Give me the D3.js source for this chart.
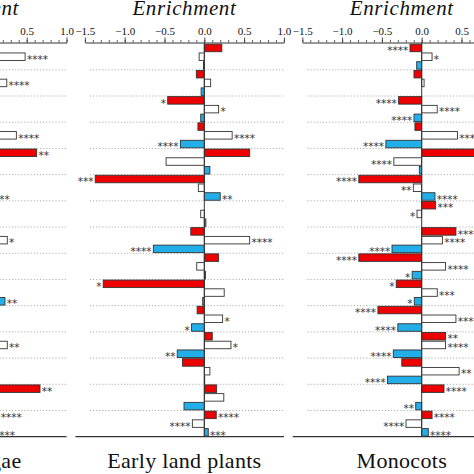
<!DOCTYPE html>
<html>
<head>
<meta charset="utf-8">
<script src="https://cdn.jsdelivr.net/npm/d3@7/dist/d3.min.js"></script>
<style>
  html, body { margin: 0; padding: 0; background: #fff; }
  svg { display: block; }
</style>
</head>
<body>
<svg id="chart" width="474" height="474"></svg>
<script>
// ---------------- DATA ----------------
const panels = ["Green algae", "Early land plants", "Monocots"];
const series = ["red", "white", "blue"];
const categories = ["c1","c2","c3","c4","c5","c6","c7","c8","c9","c10","c11","c12","c13","c14","c15"];
const majorTicks = [-1.5, -1.0, -0.5, 0.0, 0.5, 1.0];
const axisTitle = "Enrichment";

// Green algae (left panel, mostly cropped; null = not visible)
const algaeRed   = [null, null, null, null, 0.625, null, null, null, null, null, null, null, null, 0.667, 0.152];
const algaeWhite = [0.48, 0.25, null, 0.37, null, null, null, 0.256, null, null, null, 0.256, null, null, null];
const algaeBlue  = [null, null, null, null, null, 0.133, null, null, null, 0.227, null, null, null, null, 0.133];
const algaeRedSig   = ["", "", "", "", "**", "", "", "", "", "", "", "", "", "**", "****"];
const algaeWhiteSig = ["****", "****", "", "****", "", "", "", "*", "", "", "", "**", "", "", ""];
const algaeBlueSig  = ["", "", "", "", "", "**", "", "", "", "**", "", "", "", "", "***"];

// Early land plants
const elpRed   = [0.22, -0.10, -0.46, -0.08, 0.57, -1.37, 0.0, -0.17, 0.18, -1.27, -0.09, 0.10, -0.275, 0.155, 0.15];
const elpWhite = [-0.065, 0.08, 0.18, 0.35, -0.48, -0.075, -0.045, 0.57, -0.095, 0.25, 0.23, 0.335, 0.07, 0.245, -0.15];
const elpBlue  = [-0.01, -0.04, -0.045, -0.30, 0.07, 0.20, 0.02, -0.64, 0.015, -0.02, -0.16, -0.34, 0.005, -0.255, 0.05];
const elpRedSig   = ["", "", "*", "", "", "***", "", "", "", "*", "", "", "", "", "****"];
const elpWhiteSig = ["", "", "*", "****", "", "", "", "****", "", "", "*", "*", "", "", "****"];
const elpBlueSig  = ["", "", "", "****", "", "**", "", "****", "", "", "*", "**", "", "", "***"];

// Monocots
const monoRed   = [-0.147, -0.097, -0.29, -0.085, 0.80, -0.79, 0.175, 0.43, -0.79, -0.32, -0.55, 0.30, -0.25, 0.28, 0.13];
const monoWhite = [0.13, 0.03, 0.195, 0.45, -0.35, -0.105, -0.059, 0.26, 0.30, 0.196, 0.43, 0.30, 0.47, 0.0, -0.197];
const monoBlue  = [-0.063, 0.0, -0.097, -0.45, -0.03, 0.167, 0.0, -0.373, -0.12, -0.093, -0.30, -0.357, -0.43, -0.075, 0.083];
const monoRedSig   = ["****", "", "****", "", "****", "****", "***", "****", "****", "*", "****", "**", "", "****", "****"];
const monoWhiteSig = ["*", "", "****", "****", "****", "**", "*", "****", "****", "***", "****", "****", "**", "", "****"];
const monoBlueSig  = ["", "", "****", "****", "", "****", "", "****", "*", "*", "****", "****", "****", "**", "****"];

const panelValues = [
  [algaeRed, algaeWhite, algaeBlue],
  [elpRed, elpWhite, elpBlue],
  [monoRed, monoWhite, monoBlue]
];
const panelSig = [
  [algaeRedSig, algaeWhiteSig, algaeBlueSig],
  [elpRedSig, elpWhiteSig, elpBlueSig],
  [monoRedSig, monoWhiteSig, monoBlueSig]
];

// ---------------- STYLE / LAYOUT ----------------
const colors = { red: "#ee0000", white: "#ffffff", blue: "#22aee8" };
const ink = "#333";
const serif = "Liberation Serif";
const axisY = 42.5, bottomY = 436.7;
const panelWidth = 199, firstLeft = -132.5, panelStep = 217.4;

const svg = d3.select("#chart");

const y = d3.scaleBand().domain(categories).range([43.6, bottomY]).paddingInner(0).paddingOuter(0);
const ys = d3.scaleBand().domain(series).range([0, y.bandwidth()]).paddingInner(0.14).paddingOuter(0.07);

panels.forEach((name, p) => {
  const left = firstLeft + p * panelStep;
  const x = d3.scaleLinear().domain([majorTicks[0], majorTicks[majorTicks.length - 1]]).range([left, left + panelWidth]);
  const g = svg.append("g");

  // dotted separators
  g.selectAll("line.sep").data(categories.slice(1)).join("line")
    .attr("x1", x(-1.5) + 5).attr("x2", x(1.0))
    .attr("y1", d => y(d)).attr("y2", d => y(d))
    .attr("stroke", "#9a9a9a").attr("stroke-width", 0.8)
    .attr("stroke-dasharray", "1.2,1.9");

  // bars
  series.forEach((s, si) => {
    const vals = panelValues[p][si];
    const sig = panelSig[p][si];
    const rows = categories.map((c, i) => ({ c, v: vals[i], sig: sig[i] })).filter(d => d.v !== null);
    g.selectAll("rect.b" + s).data(rows).join("rect")
      .attr("x", d => x(Math.min(0, d.v)))
      .attr("width", d => Math.abs(x(d.v) - x(0)))
      .attr("y", d => y(d.c) + ys(s))
      .attr("height", ys.bandwidth())
      .attr("fill", colors[s])
      .attr("stroke", ink).attr("stroke-width", 0.9);

    g.selectAll("text.s" + s).data(rows.filter(d => d.sig)).join("text")
      .attr("x", d => d.v >= 0 ? x(d.v) + 1.8 : x(d.v) - 1.8)
      .attr("y", d => y(d.c) + ys(s) + ys.bandwidth() / 2 + 6.2)
      .attr("text-anchor", d => d.v >= 0 ? "start" : "end")
      .attr("font-family", "DejaVu Sans")
      .attr("font-size", 10.5)
      .attr("fill", ink)
      .text(d => d.sig);
  });

  // zero line
  g.append("line")
    .attr("x1", x(0)).attr("x2", x(0))
    .attr("y1", axisY).attr("y2", bottomY)
    .attr("stroke", ink).attr("stroke-width", 1);

  // bottom line
  g.append("line")
    .attr("x1", x(-1.5) - 9.5).attr("x2", x(1.0))
    .attr("y1", bottomY).attr("y2", bottomY)
    .attr("stroke", ink).attr("stroke-width", 1.2);

  // top axis: minor ticks
  const minor = d3.range(-15, 11).map(k => k / 10);
  g.append("g").attr("transform", `translate(0,${axisY})`)
    .call(d3.axisTop(x).tickValues(minor).tickSize(2.5).tickSizeOuter(0).tickFormat(""))
    .call(a => a.select(".domain").remove())
    .call(a => a.selectAll("line").attr("stroke", ink).attr("stroke-width", 0.8));
  // major ticks + labels
  g.append("g").attr("transform", `translate(0,${axisY})`)
    .call(d3.axisTop(x).tickValues(majorTicks).tickSize(5).tickSizeOuter(0).tickPadding(3).tickFormat(d3.format(".1f")))
    .attr("font-family", serif).attr("font-size", 11)
    .call(a => a.select(".domain").attr("stroke", ink).attr("stroke-width", 1))
    .call(a => a.selectAll("line").attr("stroke", ink).attr("stroke-width", 0.9))
    .call(a => a.selectAll("text").attr("font-family", serif).attr("font-size", 11).attr("fill", "#111"));

  // axis title
  g.append("text")
    .attr("x", (x(-1.5) + x(1.0)) / 2).attr("y", 15)
    .attr("text-anchor", "middle")
    .attr("font-family", serif).attr("font-style", "italic")
    .attr("font-size", 21).attr("letter-spacing", 0.6).attr("fill", "#111")
    .text(axisTitle);

  // panel title
  g.append("text")
    .attr("x", (x(-1.5) + x(1.0)) / 2).attr("y", 468.3)
    .attr("text-anchor", "middle")
    .attr("font-family", serif)
    .attr("font-size", 22).attr("letter-spacing", 0.3).attr("fill", "#111")
    .text(name);
});
</script>
</body>
</html>
